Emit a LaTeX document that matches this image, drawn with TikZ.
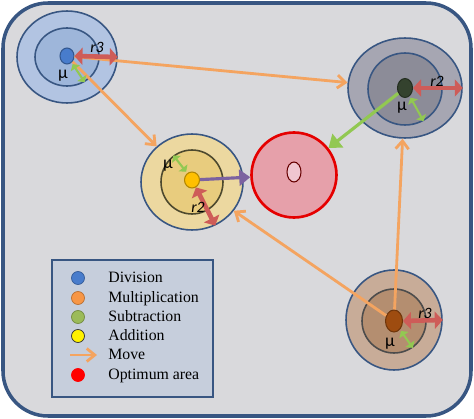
\documentclass[tikz,border=0pt]{standalone}
\usepackage{fontspec}
\setmainfont{Liberation Serif}
\newfontfamily\labelfont{Carlito}
\usetikzlibrary{arrows.meta}
\usetikzlibrary{shapes.geometric}

\definecolor{bggray}{RGB}{217,217,220}
\definecolor{ringblue}{RGB}{56,86,130}
\definecolor{legfill}{RGB}{198,206,220}
\definecolor{moveorange}{RGB}{244,164,96}
\definecolor{reachred}{RGB}{206,92,88}
\definecolor{spreadgreen}{RGB}{146,200,82}
\definecolor{pathpurple}{RGB}{124,98,160}
\definecolor{divouter}{RGB}{178,196,226}
\definecolor{divinner}{RGB}{158,182,218}
\definecolor{divcore}{RGB}{72,124,204}
\definecolor{subouter}{RGB}{166,166,178}
\definecolor{subinner}{RGB}{140,140,152}
\definecolor{subcore}{RGB}{52,66,46}
\definecolor{addouter}{RGB}{236,216,160}
\definecolor{addinner}{RGB}{232,204,126}
\definecolor{addcore}{RGB}{255,192,0}
\definecolor{mulouter}{RGB}{200,172,152}
\definecolor{mulinner}{RGB}{180,142,112}
\definecolor{mulcore}{RGB}{158,76,16}
\definecolor{optfill}{RGB}{230,160,170}
\definecolor{optcore}{RGB}{240,198,208}
\definecolor{legorange}{RGB}{247,150,70}
\definecolor{leggreen}{RGB}{155,187,89}

\begin{document}
\begin{tikzpicture}[x=0.02cm,y=-0.02cm,
	ring/.style={draw=ringblue,line width=0.9pt,shape=ellipse,inner sep=0pt},
	core/.style={draw=#1!70!black,fill=#1,shape=ellipse,inner sep=0pt,line width=0.6pt},
	movearrow/.style={draw=moveorange,line width=1.6pt,-{Straight Barb[length=1.6mm,width=2.6mm]}},
	reach/.style={draw=reachred,line width=2.6pt,{Triangle[length=1.6mm,width=3.4mm]}-{Triangle[length=1.6mm,width=3.4mm]}},
	spreadarrow/.style={draw=spreadgreen,line width=1.2pt,shorten <=1pt,{Triangle[length=1mm,width=2.2mm]}-{Triangle[length=1mm,width=2.2mm]}},
	rlabel/.style={font=\labelfont\itshape\small},
	mulabel/.style={font=\labelfont},
	legtext/.style={anchor=west,inner sep=0pt,text height=1.6ex,text depth=0.4ex,font=\fontsize{9}{10}\selectfont},
	legmark/.style={draw=#1!75!black,fill=#1,shape=circle,minimum size=0.26cm,inner sep=0pt}]
	\useasboundingbox (0,0) rectangle (474,419);
	\draw[draw=ringblue,fill=bggray,line width=2pt,rounded corners=0.9cm] (3,3) rectangle (471,416);

	\draw (67,57) node (divout) [ring,fill=divouter,minimum width=2cm,minimum height=1.84cm] {};
	\draw (67,57) node (divin) [ring,fill=divinner,minimum width=1.28cm,minimum height=1.16cm] {};
	\draw (67,56) node (divdot) [core=divcore,minimum width=0.28cm,minimum height=0.32cm] {};

	\draw (405,88) node (subout) [ring,fill=subouter,minimum width=2.28cm,minimum height=2cm] {};
	\draw (405,89) node (subin) [ring,fill=subinner,minimum width=1.48cm,minimum height=1.44cm] {};
	\draw (405,88) node (subdot) [core=subcore,minimum width=0.3cm,minimum height=0.38cm] {};

	\draw (192,182) node (addout) [ring,fill=addouter,minimum width=2.04cm,minimum height=1.92cm] {};
	\draw (192,182) node (addin) [ring,draw=black!60!olive,fill=addinner,minimum width=1.24cm,minimum height=1.28cm] {};
	\draw (192,180) node (adddot) [core=addcore,minimum width=0.3cm,minimum height=0.32cm] {};

	\draw (294,175) node (opt) [shape=circle,draw=red!90!black,fill=optfill,line width=1.5pt,inner sep=0pt,minimum size=1.7cm] {};
	\draw (294,172) node (optdot) [shape=ellipse,draw=red!40!black,fill=optcore,line width=0.6pt,inner sep=0pt,minimum width=0.28cm,minimum height=0.4cm] {};

	\draw (394,320) node (mulout) [ring,fill=mulouter,minimum width=1.92cm,minimum height=2cm] {};
	\draw (394,321) node (mulin) [ring,draw=black!70,fill=mulinner,minimum width=1.28cm,minimum height=1.28cm] {};
	\draw (394,321) node (muldot) [core=mulcore,minimum width=0.34cm,minimum height=0.44cm] {};

	\draw[movearrow] (divdot) -- (subout);
	\draw[movearrow] (divdot) -- (addout);
	\draw[movearrow] (muldot) -- (subout);
	\draw[movearrow] (muldot) -- (addout);
	\draw[draw=spreadgreen,line width=1.8pt,-{Triangle[length=2.4mm,width=3.4mm]}] (subdot) -- (opt);
	\draw[draw=pathpurple,line width=1.8pt,-{Triangle[length=2.2mm,width=3.2mm]}] (adddot) -- (opt);

	\draw[reach] (divdot.east) -- (divout.east);
	\draw[reach] (subdot.east) -- (subout.east);
	\draw[reach] (adddot.-62) -- (addout.-62);
	\draw[reach] (muldot.east) -- (mulout.east);

	\draw[spreadarrow] (divdot.-55) -- (divin.-55);
	\draw[spreadarrow] (subdot.-60) -- (subin.-60);
	\draw[spreadarrow] (adddot.125) -- (addin.125);
	\draw[spreadarrow] (muldot.-55) -- (mulin.-55);

	\node (divr) [rlabel] at (97,47) {r3};
	\node (divmu) [mulabel] at (63,76) {μ};
	\node (subr) [rlabel] at (437,81) {r2};
	\node (submu) [mulabel] at (402,108) {μ};
	\node (addr) [rlabel] at (198,207) {r2};
	\node (addmu) [mulabel] at (168,166) {μ};
	\node (mulr) [rlabel] at (425,313) {r3};
	\node (mulmu) [mulabel] at (390,344) {μ};

	\draw (132.5,328.5) node (legend) [draw=ringblue,fill=legfill,line width=1pt,minimum width=3.22cm,minimum height=2.74cm] {};
	\node (legdiv) [legmark=divcore] at (78,278) {};
	\node [legtext] at (108,278) {Division};
	\node (legmul) [legmark=legorange] at (78,298) {};
	\node [legtext] at (108,298) {Multiplication};
	\node (legsub) [legmark=leggreen] at (78,317) {};
	\node [legtext] at (108,317) {Subtraction};
	\node (legadd) [legmark=yellow,draw=black!80] at (78,336) {};
	\node [legtext] at (108,336) {Addition};
	\coordinate (legmovea) at (70,355);
	\coordinate (legmoveb) at (97,355);
	\draw[movearrow] (legmovea) -- (legmoveb);
	\node [legtext] at (108,355) {Move};
	\node (legopt) [legmark=red,draw=red] at (78,375) {};
	\node [legtext] at (108,375) {Optimum area};
\end{tikzpicture}
\end{document}
